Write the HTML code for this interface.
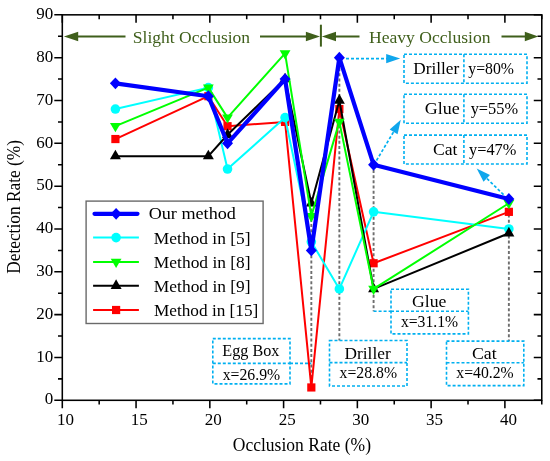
<!DOCTYPE html><html><head><meta charset="utf-8"><title>Detection Rate vs Occlusion Rate</title>
<style>html,body{margin:0;padding:0;background:#fff;overflow:hidden}svg{display:block}text{font-family:'Liberation Serif', serif}</style></head><body>
<svg width="550" height="461" viewBox="0 0 550 461">
<rect width="550" height="461" fill="#fff"/>
<line x1="311.33" y1="203.28" x2="311.33" y2="387.45" stroke="#6E6E6E" stroke-width="1.9" stroke-dasharray="3 2.2"/>
<line x1="339.36" y1="57.66" x2="339.36" y2="340.6" stroke="#6E6E6E" stroke-width="1.9" stroke-dasharray="3 2.2"/>
<line x1="373.59" y1="164.73" x2="373.59" y2="311.2" stroke="#6E6E6E" stroke-width="1.9" stroke-dasharray="3 2.2"/>
<line x1="508.87" y1="199" x2="508.87" y2="341.1" stroke="#6E6E6E" stroke-width="1.9" stroke-dasharray="3 2.2"/>
<polyline points="115.41,139.04 208.35,96.21 227.53,126.19 285.07,121.9 311.33,387.45 339.36,109.06 373.59,263.24 508.87,211.85" fill="none" stroke="#FF0000" stroke-width="2" stroke-linejoin="round"/>
<rect x="111.31" y="134.94" width="8.2" height="8.2" fill="#FF0000"/>
<rect x="204.25" y="92.11" width="8.2" height="8.2" fill="#FF0000"/>
<rect x="223.43" y="122.09" width="8.2" height="8.2" fill="#FF0000"/>
<rect x="280.97" y="117.8" width="8.2" height="8.2" fill="#FF0000"/>
<rect x="307.23" y="383.35" width="8.2" height="8.2" fill="#FF0000"/>
<rect x="335.26" y="104.96" width="8.2" height="8.2" fill="#FF0000"/>
<rect x="369.49" y="259.14" width="8.2" height="8.2" fill="#FF0000"/>
<rect x="504.77" y="207.75" width="8.2" height="8.2" fill="#FF0000"/>
<polyline points="115.41,109.06 208.35,87.64 227.53,169.02 285.07,117.62 311.33,241.83 339.36,288.94 373.59,211.85 508.87,228.98" fill="none" stroke="#00FFFF" stroke-width="2" stroke-linejoin="round"/>
<circle cx="115.41" cy="109.06" r="4.8" fill="#00FFFF"/>
<circle cx="208.35" cy="87.64" r="4.8" fill="#00FFFF"/>
<circle cx="227.53" cy="169.02" r="4.8" fill="#00FFFF"/>
<circle cx="285.07" cy="117.62" r="4.8" fill="#00FFFF"/>
<circle cx="311.33" cy="241.83" r="4.8" fill="#00FFFF"/>
<circle cx="339.36" cy="288.94" r="4.8" fill="#00FFFF"/>
<circle cx="373.59" cy="211.85" r="4.8" fill="#00FFFF"/>
<circle cx="508.87" cy="228.98" r="4.8" fill="#00FFFF"/>
<polyline points="115.41,156.17 208.35,156.17 227.53,134.75 285.07,79.07 311.33,203.28 339.36,100.49 373.59,288.94 508.87,233.26" fill="none" stroke="#000000" stroke-width="2" stroke-linejoin="round"/>
<polygon points="115.41,149.77 120.91,159.37 109.91,159.37" fill="#000000"/>
<polygon points="208.35,149.77 213.85,159.37 202.85,159.37" fill="#000000"/>
<polygon points="227.53,128.35 233.03,137.95 222.03,137.95" fill="#000000"/>
<polygon points="285.07,72.67 290.57,82.27 279.57,82.27" fill="#000000"/>
<polygon points="311.33,196.88 316.83,206.48 305.83,206.48" fill="#000000"/>
<polygon points="339.36,94.09 344.86,103.69 333.86,103.69" fill="#000000"/>
<polygon points="373.59,282.54 379.09,292.14 368.09,292.14" fill="#000000"/>
<polygon points="508.87,226.86 514.37,236.46 503.37,236.46" fill="#000000"/>
<polyline points="115.41,126.19 208.35,87.64 227.53,117.62 285.07,53.38 311.33,216.13 339.36,121.9 373.59,288.94 508.87,203.28" fill="none" stroke="#00FF00" stroke-width="2" stroke-linejoin="round"/>
<polygon points="110.01,122.99 120.81,122.99 115.41,132.19" fill="#00FF00"/>
<polygon points="202.95,84.44 213.75,84.44 208.35,93.64" fill="#00FF00"/>
<polygon points="222.13,114.42 232.93,114.42 227.53,123.62" fill="#00FF00"/>
<polygon points="279.67,50.18 290.47,50.18 285.07,59.38" fill="#00FF00"/>
<polygon points="305.93,212.93 316.73,212.93 311.33,222.13" fill="#00FF00"/>
<polygon points="333.96,118.7 344.76,118.7 339.36,127.9" fill="#00FF00"/>
<polygon points="368.19,285.74 378.99,285.74 373.59,294.94" fill="#00FF00"/>
<polygon points="503.47,200.08 514.27,200.08 508.87,209.28" fill="#00FF00"/>
<polyline points="115.41,83.36 208.35,96.21 227.53,143.32 285.07,79.07 311.33,250.4 339.36,57.66 373.59,164.73 508.87,199" fill="none" stroke="#0000FF" stroke-width="4.2" stroke-linejoin="round"/>
<polygon points="115.41,77.46 120.91,83.36 115.41,89.26 109.91,83.36" fill="#0000FF"/>
<polygon points="208.35,90.31 213.85,96.21 208.35,102.11 202.85,96.21" fill="#0000FF"/>
<polygon points="227.53,137.42 233.03,143.32 227.53,149.22 222.03,143.32" fill="#0000FF"/>
<polygon points="285.07,73.17 290.57,79.07 285.07,84.97 279.57,79.07" fill="#0000FF"/>
<polygon points="311.33,244.5 316.83,250.4 311.33,256.3 305.83,250.4" fill="#0000FF"/>
<polygon points="339.36,51.76 344.86,57.66 339.36,63.56 333.86,57.66" fill="#0000FF"/>
<polygon points="373.59,158.83 379.09,164.73 373.59,170.63 368.09,164.73" fill="#0000FF"/>
<polygon points="508.87,193.1 514.37,199 508.87,204.9 503.37,199" fill="#0000FF"/>
<g stroke="#000" stroke-width="1.55" fill="none">
<rect x="62.3" y="14.83" width="479.47" height="385.47"/>
<path d="M54.3 400.3H62.3M533.77 400.3H541.77M58 378.88H62.3M537.47 378.88H541.77M54.3 357.47H62.3M533.77 357.47H541.77M58 336.06H62.3M537.47 336.06H541.77M54.3 314.64H62.3M533.77 314.64H541.77M58 293.23H62.3M537.47 293.23H541.77M54.3 271.81H62.3M533.77 271.81H541.77M58 250.4H62.3M537.47 250.4H541.77M54.3 228.98H62.3M533.77 228.98H541.77M58 207.56H62.3M537.47 207.56H541.77M54.3 186.15H62.3M533.77 186.15H541.77M58 164.73H62.3M537.47 164.73H541.77M54.3 143.32H62.3M533.77 143.32H541.77M58 121.9H62.3M537.47 121.9H541.77M54.3 100.49H62.3M533.77 100.49H541.77M58 79.07H62.3M537.47 79.07H541.77M54.3 57.66H62.3M533.77 57.66H541.77M58 36.25H62.3M537.47 36.25H541.77M54.3 14.83H62.3M533.77 14.83H541.77M62.3 400.3V408.3M62.3 14.83V22.83M99.18 400.3V404.6M99.18 14.83V19.13M136.06 400.3V408.3M136.06 14.83V22.83M172.95 400.3V404.6M172.95 14.83V19.13M209.83 400.3V408.3M209.83 14.83V22.83M246.71 400.3V404.6M246.71 14.83V19.13M283.6 400.3V408.3M283.6 14.83V22.83M320.48 400.3V404.6M320.48 14.83V19.13M357.36 400.3V408.3M357.36 14.83V22.83M394.24 400.3V404.6M394.24 14.83V19.13M431.12 400.3V408.3M431.12 14.83V22.83M468.01 400.3V404.6M468.01 14.83V19.13M504.89 400.3V408.3M504.89 14.83V22.83M541.77 400.3V404.6M541.77 14.83V19.13"/>
</g>
<g fill="#3F5F1B" stroke="none">
<polygon points="63.9,36.5 78.2,31.7 78.2,41.3"/>
<polygon points="320,36.5 305.9,31.7 305.9,41.3"/>
<polygon points="321.8,36.5 336,31.7 336,41.3"/>
<polygon points="538.3,36.5 524.8,31.7 524.8,41.3"/>
</g>
<g stroke="#3F5F1B" stroke-width="1.9" fill="none">
<path d="M77 36.5H125.5M260 36.5H307M335 36.5H359.5M501.5 36.5H526"/>
<path d="M320.9 24.7V46.6" stroke-width="2"/>
</g>
<rect x="86.1" y="201.1" width="177" height="122.4" fill="#fff" stroke="#6a6a6a" stroke-width="1.4"/>
<line x1="94.5" y1="213.8" x2="137.5" y2="213.8" stroke="#0000FF" stroke-width="4.2" stroke-linecap="round"/>
<polygon points="116.1,207.9 121.6,213.8 116.1,219.7 110.6,213.8" fill="#0000FF"/>
<line x1="93.1" y1="237.6" x2="138.9" y2="237.6" stroke="#00FFFF" stroke-width="2"/>
<circle cx="116.1" cy="237.6" r="4.8" fill="#00FFFF"/>
<line x1="93.1" y1="262" x2="138.9" y2="262" stroke="#00FF00" stroke-width="2"/>
<polygon points="110.7,258.8 121.5,258.8 116.1,268" fill="#00FF00"/>
<line x1="93.1" y1="285.7" x2="138.9" y2="285.7" stroke="#000000" stroke-width="2"/>
<polygon points="116.1,279.3 121.6,288.9 110.6,288.9" fill="#000000"/>
<line x1="93.1" y1="310" x2="138.9" y2="310" stroke="#FF0000" stroke-width="2"/>
<rect x="112" y="305.9" width="8.2" height="8.2" fill="#FF0000"/>
<rect x="404" y="54.3" width="123" height="28.9" fill="none" stroke="#00B0F0" stroke-width="1.6" stroke-dasharray="3 2"/>
<line x1="463.9" y1="54.3" x2="463.9" y2="83.2" stroke="#00B0F0" stroke-width="1.6" stroke-dasharray="3 2"/>
<rect x="404" y="94.3" width="123" height="29" fill="none" stroke="#00B0F0" stroke-width="1.6" stroke-dasharray="3 2"/>
<line x1="463.9" y1="94.3" x2="463.9" y2="123.3" stroke="#00B0F0" stroke-width="1.6" stroke-dasharray="3 2"/>
<rect x="404" y="135.1" width="123" height="28.9" fill="none" stroke="#00B0F0" stroke-width="1.6" stroke-dasharray="3 2"/>
<line x1="463.9" y1="135.1" x2="463.9" y2="164" stroke="#00B0F0" stroke-width="1.6" stroke-dasharray="3 2"/>
<rect x="212.8" y="338.6" width="77.2" height="45.3" fill="none" stroke="#00B0F0" stroke-width="1.6" stroke-dasharray="3 2"/>
<line x1="212.8" y1="363.4" x2="290" y2="363.4" stroke="#00B0F0" stroke-width="1.6" stroke-dasharray="3 2"/>
<line x1="290" y1="363.4" x2="311.33" y2="363.4" stroke="#00B0F0" stroke-width="1.6" stroke-dasharray="3 2"/>
<rect x="329.5" y="340.5" width="77.5" height="45.5" fill="none" stroke="#00B0F0" stroke-width="1.6" stroke-dasharray="3 2"/>
<line x1="329.5" y1="362.6" x2="407" y2="362.6" stroke="#00B0F0" stroke-width="1.6" stroke-dasharray="3 2"/>
<rect x="391" y="289.2" width="77.4" height="44.7" fill="none" stroke="#00B0F0" stroke-width="1.6" stroke-dasharray="3 2"/>
<line x1="391" y1="311.2" x2="468.4" y2="311.2" stroke="#00B0F0" stroke-width="1.6" stroke-dasharray="3 2"/>
<line x1="373.59" y1="311.2" x2="391" y2="311.2" stroke="#00B0F0" stroke-width="1.6" stroke-dasharray="3 2"/>
<rect x="446.5" y="341.1" width="77.3" height="44.5" fill="none" stroke="#00B0F0" stroke-width="1.6" stroke-dasharray="3 2"/>
<line x1="446.5" y1="362.7" x2="523.8" y2="362.7" stroke="#00B0F0" stroke-width="1.6" stroke-dasharray="3 2"/>
<line x1="346" y1="58.6" x2="387.2" y2="58.6" stroke="#00B0F0" stroke-width="1.7" stroke-dasharray="3 2"/><polygon points="400.2,58.6 386.2,63.2 386.2,54" fill="#0FA6EC"/>
<line x1="376.5" y1="160.5" x2="394.14" y2="130.96" stroke="#00B0F0" stroke-width="1.7" stroke-dasharray="3 2"/><polygon points="400.8,119.8 397.57,134.18 389.67,129.46" fill="#0FA6EC"/>
<line x1="503.5" y1="194.6" x2="486.03" y2="177.65" stroke="#00B0F0" stroke-width="1.7" stroke-dasharray="3 2"/><polygon points="476.7,168.6 489.95,175.05 483.55,181.65" fill="#0FA6EC"/>
<text x="44.83" y="404.48" font-size="17">0</text>
<text x="36.33" y="361.65" font-size="17">10</text>
<text x="36.33" y="318.81" font-size="17">20</text>
<text x="36.33" y="275.99" font-size="17">30</text>
<text x="36.33" y="233.16" font-size="17">40</text>
<text x="36.33" y="190.33" font-size="17">50</text>
<text x="36.33" y="147.5" font-size="17">60</text>
<text x="36.33" y="104.67" font-size="17">70</text>
<text x="36.33" y="61.83" font-size="17">80</text>
<text x="36.33" y="19" font-size="17">90</text>
<text x="56.96" y="425" font-size="17">10</text>
<text x="130.73" y="425" font-size="17">15</text>
<text x="204.87" y="425" font-size="17">20</text>
<text x="278.63" y="425" font-size="17">25</text>
<text x="352.34" y="425" font-size="17">30</text>
<text x="426.1" y="425" font-size="17">35</text>
<text x="500.12" y="425" font-size="17">40</text>
<text x="232.77" y="451.2" font-size="18" textLength="138.24" lengthAdjust="spacingAndGlyphs">Occlusion Rate (%)</text>
<text x="132.84" y="42.9" font-size="17" textLength="117.27" lengthAdjust="spacingAndGlyphs" fill="#3F5F1B">Slight Occlusion</text>
<text x="368.98" y="42.9" font-size="17" textLength="121.63" lengthAdjust="spacingAndGlyphs" fill="#3F5F1B">Heavy Occlusion</text>
<text x="148.7" y="218.9" font-size="17" textLength="87.19" lengthAdjust="spacingAndGlyphs">Our method</text>
<text x="153.89" y="244" font-size="17" textLength="96.65" lengthAdjust="spacingAndGlyphs">Method in [5]</text>
<text x="153.89" y="268.4" font-size="17" textLength="96.75" lengthAdjust="spacingAndGlyphs">Method in [8]</text>
<text x="153.89" y="292.3" font-size="17" textLength="96.75" lengthAdjust="spacingAndGlyphs">Method in [9]</text>
<text x="153.99" y="316.3" font-size="17" textLength="104.33" lengthAdjust="spacingAndGlyphs">Method in [15]</text>
<text x="413.19" y="73.8" font-size="17" textLength="46" lengthAdjust="spacingAndGlyphs">Driller</text>
<text x="468.27" y="73.8" font-size="17" textLength="45.71" lengthAdjust="spacingAndGlyphs">y=80%</text>
<text x="424.71" y="114.3" font-size="17" textLength="34.97" lengthAdjust="spacingAndGlyphs">Glue</text>
<text x="470.66" y="114.3" font-size="17" textLength="47.44" lengthAdjust="spacingAndGlyphs">y=55%</text>
<text x="433.02" y="154.6" font-size="17" textLength="24.49" lengthAdjust="spacingAndGlyphs">Cat</text>
<text x="468.96" y="154.6" font-size="17" textLength="47.44" lengthAdjust="spacingAndGlyphs">y=47%</text>
<text x="222.32" y="356.1" font-size="17" textLength="57.09" lengthAdjust="spacingAndGlyphs">Egg Box</text>
<text x="222.68" y="379.8" font-size="17" textLength="57.5" lengthAdjust="spacingAndGlyphs">x=26.9%</text>
<text x="344.49" y="358.7" font-size="17" textLength="46.2" lengthAdjust="spacingAndGlyphs">Driller</text>
<text x="339.58" y="377.9" font-size="17" textLength="57.5" lengthAdjust="spacingAndGlyphs">x=28.8%</text>
<text x="412.02" y="307.3" font-size="17" textLength="34.35" lengthAdjust="spacingAndGlyphs">Glue</text>
<text x="400.88" y="326.9" font-size="17" textLength="57.19" lengthAdjust="spacingAndGlyphs">x=31.1%</text>
<text x="471.92" y="358.6" font-size="17" textLength="24.7" lengthAdjust="spacingAndGlyphs">Cat</text>
<text x="456.28" y="377.8" font-size="17" textLength="57.39" lengthAdjust="spacingAndGlyphs">x=40.2%</text>
<text transform="translate(19.5,273.78) rotate(-90)" font-size="18" textLength="133.76" lengthAdjust="spacingAndGlyphs">Detection Rate (%)</text>
</svg></body></html>
